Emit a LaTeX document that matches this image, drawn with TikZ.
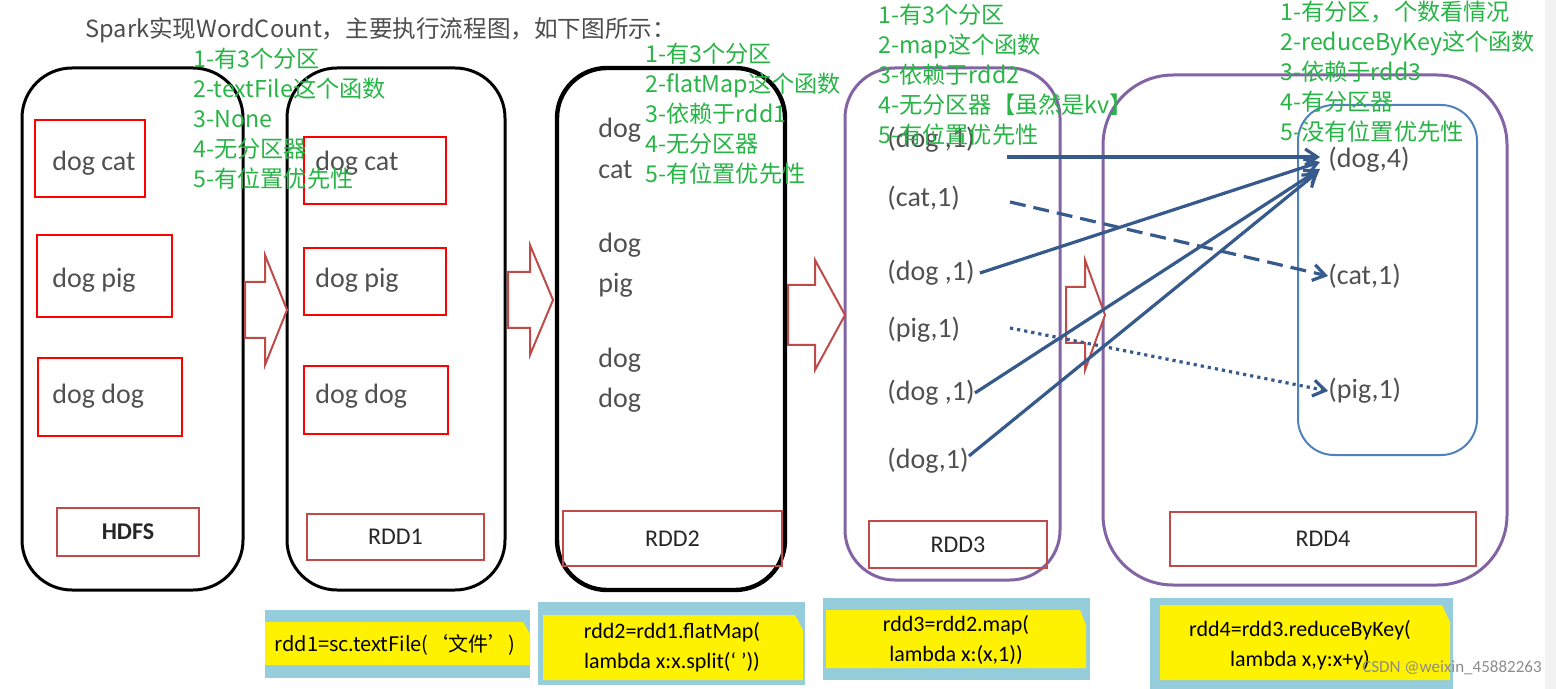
\documentclass[tikz,border=0pt]{standalone}
\usepackage{fontspec}
\setmainfont{Carlito}
\newfontfamily\cjk{Noto Sans CJK SC}
\newfontfamily\cjkm{Noto Sans CJK SC}
\usetikzlibrary{arrows.meta}
\definecolor{grn}{RGB}{40,180,70}
\definecolor{dred}{RGB}{190,75,72}
\definecolor{purp}{RGB}{130,100,165}
\definecolor{blu}{RGB}{79,129,189}
\definecolor{arr}{RGB}{55,90,140}
\definecolor{txt}{RGB}{80,80,80}
\definecolor{lblue}{RGB}{150,205,220}
\tikzset{
  rdd/.style={draw=black,line width=1.5pt,rounded corners=25pt,inner sep=0pt},
  part/.style={draw=red,line width=0.7pt,inner sep=0pt},
  lab/.style={draw=dred,line width=1.2pt,inner sep=0pt,font=\fontsize{12}{14}\selectfont,text=black!85},
  w/.style={font=\fontsize{14}{16}\selectfont,text=txt,inner sep=0pt,anchor=west},
  note/.style={font=\cjk\fontsize{11.6}{15}\selectfont,text=grn,align=left,anchor=north west,inner sep=0pt},
  blk/.style={draw=dred,line width=1pt,fill=white},
  link/.style={draw=arr,line width=1.6pt,-{Straight Barb[length=6pt,width=8pt]}},
  code/.style={font=\fontsize{11}{15}\selectfont,align=center,text=black},
}
\newcommand{\blockarrow}[5]{%
  \draw[blk] (#1,#4-#5) -- (#3,#4-#5) -- (#3,#4-55) -- (#2,#4) -- (#3,#4+55) -- (#3,#4+#5) -- (#1,#4+#5) -- cycle;}
\begin{document}
\begin{tikzpicture}[x=0.5pt,y=-0.5pt]
\useasboundingbox (0,0) rectangle (1556,689);
\fill[gray!10] (1545,0) rectangle (1556,689);
\node[font=\cjkm\fontsize{11.8}{13}\selectfont,text=black!70,anchor=west,inner sep=0pt] (title) at (85,30) {Spark实现WordCount，主要执行流程图，如下图所示：};
% HDFS
\node[rdd,minimum width=110.5pt,minimum height=261pt] (hdfs) at (132.5,329) {};
\node[part,minimum width=55pt,minimum height=38.5pt] (h1) at (90,158.5) {};
\node[part,minimum width=67.5pt,minimum height=41pt] (h2) at (104.5,276) {};
\node[part,minimum width=72pt,minimum height=39pt] (h3) at (110,397) {};
\node[w] at (52,163) {dog cat};
\node[w] at (52,280) {dog pig};
\node[w] at (52,396) {dog dog};
\node[lab,font=\bfseries\fontsize{12}{14}\selectfont,minimum width=71pt,minimum height=24pt] (hl) at (128,532) {HDFS};
% RDD1
\node[rdd,minimum width=109pt,minimum height=261pt] (r1) at (396,329) {};
\node[part,minimum width=71pt,minimum height=33.5pt] (a1) at (375,170.5) {};
\node[part,minimum width=71pt,minimum height=33.5pt] (a2) at (375,281.5) {};
\node[part,minimum width=72pt,minimum height=34pt] (a3) at (376,400) {};
\node[w] at (315,163) {dog cat};
\node[w] at (315,280) {dog pig};
\node[w] at (315,396) {dog dog};
\node[lab,minimum width=88.5pt,minimum height=23pt] (l1) at (395.5,537) {RDD1};
% RDD2
\node[rdd,line width=2.2pt,minimum width=114pt,minimum height=261pt] (r2) at (671,329) {};
\foreach \t/\y in {dog/130,cat/170,dog/245,pig/285,dog/360,dog/400}{\node[w] at (598,\y) {\t};}
\node[lab,minimum width=109.5pt,minimum height=27.5pt] (l2) at (672.5,538.5) {RDD2};
% RDD3
\node[rdd,draw=purp,minimum width=107.5pt,minimum height=256pt] (r3) at (952.5,324) {};
\node[w] (d1) at (887,140) {(dog ,1)};
\node[w] (c1) at (887,198) {(cat,1)};
\node[w] (d2) at (887,273) {(dog ,1)};
\node[w] (p1) at (887,330) {(pig,1)};
\node[w] (d3) at (887,393) {(dog ,1)};
\node[w] (d4) at (887,461) {(dog,1)};
\node[lab,minimum width=89pt,minimum height=23.5pt] (l3) at (958,544.5) {RDD3};
% RDD4
\node[rdd,draw=purp,rounded corners=35pt,minimum width=202pt,minimum height=255pt] (r4) at (1305,330) {};
\node[draw=blu,line width=1pt,rounded corners=18pt,minimum width=89.5pt,minimum height=175pt,inner sep=0pt] (inner) at (1387.5,280) {};
\node[w] (o1) at (1328,160) {(dog,4)};
\node[w] (o2) at (1328,276) {(cat,1)};
\node[w] (o3) at (1328,391) {(pig,1)};
\node[lab,minimum width=153pt,minimum height=27pt] (l4) at (1323,539) {RDD4};
% block arrows
\blockarrow{245}{287}{265}{310}{28}
\blockarrow{508}{553}{530}{300}{28}
\blockarrow{788}{845}{815}{315}{30}
\blockarrow{1066}{1105}{1085}{315}{28}
% connectors
\coordinate (t0) at (1320,157);
\coordinate (t1) at (1320,162);
\coordinate (t2) at (1320,169);
\coordinate (t3) at (1318,172);
\draw[link] (1007,157) -- (t0);
\draw[link] (d2.east) ++(5,0) -- (t1);
\draw[link] (d3.east) -- (t2);
\draw[link] (d4.east) ++(0,-5) -- (t3);
\draw[link,dash pattern=on 8pt off 4pt] (1010,202) -- (o2.west);
\draw[link,dotted] (1010,328) -- (o3.west);
% notes
\node[note] at (193,48) {1-有3个分区\\2-textFile这个函数\\3-None\\4-无分区器\\5-有位置优先性};
\node[note] at (645,43) {1-有3个分区\\2-flatMap这个函数\\3-依赖于rdd1\\4-无分区器\\5-有位置优先性};
\node[note] at (878,4) {1-有3个分区\\2-map这个函数\\3-依赖于rdd2\\4-无分区器【虽然是kv】\\5-有位置优先性};
\node[note] at (1280,1) {1-有分区，个数看情况\\2-reduceByKey这个函数\\3-依赖于rdd3\\4-有分区器\\5-没有位置优先性};
% code boxes
\fill[lblue] (265,610) rectangle (530,678);
\fill[yellow] (265,622) -- (523,622) -- (530,634) -- (530,665) -- (265,665) -- cycle;
\node[code,font=\cjk\fontsize{10}{15}\selectfont] (k1) at (395,645) {rdd1=sc.textFile(‘文件’)};
\fill[lblue] (538,602) rectangle (805,685);
\fill[yellow] (543,615) -- (795,615) -- (803,630) -- (803,680) -- (543,680) -- cycle;
\node[code] (k2) at (672,647) {rdd2=rdd1.flatMap(\\lambda x:x.split(‘ ’))};
\fill[lblue] (823,598) rectangle (1090,680);
\fill[yellow] (826,610) -- (1080,610) -- (1086,625) -- (1086,668) -- (826,668) -- cycle;
\node[code] (k3) at (956,640) {rdd3=rdd2.map(\\lambda x:(x,1))};
\fill[lblue] (1150,598) rectangle (1453,689);
\fill[yellow] (1160,605) -- (1442,605) -- (1450,622) -- (1450,680) -- (1160,680) -- cycle;
\node[code] (k4) at (1300,645) {rdd4=rdd3.reduceByKey(\\lambda x,y:x+y)};
\node[font=\fontsize{8.5}{10}\selectfont,text=black!45,anchor=east,inner sep=0pt] (wm) at (1542,668) {CSDN @weixin\_45882263};
\end{tikzpicture}
\end{document}
